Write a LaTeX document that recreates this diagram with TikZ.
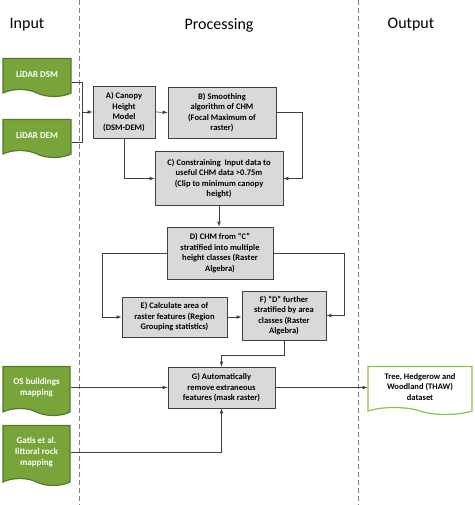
\documentclass[tikz,border=0pt]{standalone}
\usepackage{fontspec}
\setmainfont{Carlito}
\usepackage{tikz}
\usetikzlibrary{arrows,shapes.symbols}
\definecolor{docgreen}{RGB}{120,164,58}
\definecolor{docedge}{RGB}{86,122,42}
\definecolor{outedge}{RGB}{140,192,72}
\definecolor{boxgray}{RGB}{217,217,217}
\definecolor{boxedge}{RGB}{64,64,64}
\tikzset{
  docin/.style={tape,tape bend top=none,tape bend bottom=out and in,tape bend height=7pt,
    draw=docedge,line width=1.2pt,fill=docgreen,text=white,font=\fontsize{9}{11}\selectfont\bfseries,
    align=center,inner sep=1pt},
  docout/.style={docin,draw=outedge,fill=white,text=black,font=\fontsize{8.5}{10.5}\selectfont\bfseries},
  stepbox/.style={rectangle,draw=boxedge,line width=0.8pt,fill=boxgray,
    font=\fontsize{8.5}{10.5}\selectfont\bfseries,align=center,inner sep=1pt},
  flow/.style={draw=boxedge,line width=0.7pt,-latex},
  joint/.style={draw=boxedge,line width=0.7pt}
}
\begin{document}
\begin{tikzpicture}[x=1pt,y=-1pt]
\useasboundingbox (0,0) rectangle (474,505);
\foreach \lx in {79,358} \draw[gray,dash pattern=on 5pt off 3pt,line width=0.9pt] (\lx,0) -- (\lx,505);
\node[font=\fontsize{16}{19}\selectfont] (hin) at (27,25) {Input};
\node[font=\fontsize{16}{19}\selectfont] (hproc) at (219,25) {Processing};
\node[font=\fontsize{16}{19}\selectfont] (hout) at (411,25) {Output};

\node[docin,minimum width=68pt,minimum height=38pt] (dsm) at (37,74) {LiDAR DSM};
\node[docin,minimum width=68pt,minimum height=38pt] (dem) at (37,135) {LiDAR DEM};
\node[docin,minimum width=67pt,minimum height=49pt] (os) at (36.5,387.5) {OS buildings\\mapping};
\node[docin,minimum width=67pt,minimum height=60pt] (gatis) at (36.5,452) {Gatis et al.\\littoral rock\\mapping};
\node[docout,minimum width=104pt,minimum height=48pt] (thaw) at (420,387) {Tree, Hedgerow and\\Woodland (THAW)\\dataset};

\node[stepbox,minimum width=62pt,minimum height=52pt] (a) at (124,112) {A) Canopy\\Height\\Model\\(DSM-DEM)};
\node[stepbox,minimum width=108pt,minimum height=51pt] (b) at (222,112.5) {B) Smoothing\\algorithm of CHM\\(Focal Maximum of\\raster)};
\node[stepbox,minimum width=128pt,minimum height=54pt] (c) at (219,178.5) {C) Constraining\ \ Input data to\\useful CHM data >0.75m\\(Clip to minimum canopy\\height)};
\node[stepbox,minimum width=106pt,minimum height=52pt] (d) at (220,253) {D) CHM from ``C''\\stratified into multiple\\height classes (Raster\\Algebra)};
\node[stepbox,minimum width=105pt,minimum height=40pt] (e) at (174.5,317) {E) Calculate area of\\raster features (Region\\Grouping statistics)};
\node[stepbox,minimum width=84pt,minimum height=49pt] (f) at (284,315.5) {F) ``D'' further\\stratified by area\\classes (Raster\\Algebra)};
\node[stepbox,minimum width=107pt,minimum height=41pt] (g) at (221.5,387.5) {G) Automatically\\remove extraneous\\features (mask raster)};

\coordinate (jn) at (82,112);
\draw[joint] ([yshift=-8pt]dsm.east) -| (jn);
\draw[joint] ([yshift=-7pt]dem.east) -| (jn);
\draw[flow] (jn) -- (a.west);
\draw[flow] (a.east) -- (b.west);
\draw[flow] (a.south) |- (c.west);
\draw[flow] (b.east) -- ++(26,0) |- (c.east);
\draw[flow] (c.south) -- (c.south |- d.north);
\draw[flow] (d.west) -- ++(-64,0) |- (e.west);
\draw[flow] (d.east) -- ++(71,0) |- (f.east);
\draw[flow] (e.east) -- (e.east -| f.west);
\draw[flow] (f.south) -- ++(0,15) -| (g.north);
\draw[flow] (os.east) -- (g.west);
\draw[flow] (gatis.east) -| (g.south);
\draw[flow] (g.east) -- (g.east -| thaw.west);
\end{tikzpicture}
\end{document}
